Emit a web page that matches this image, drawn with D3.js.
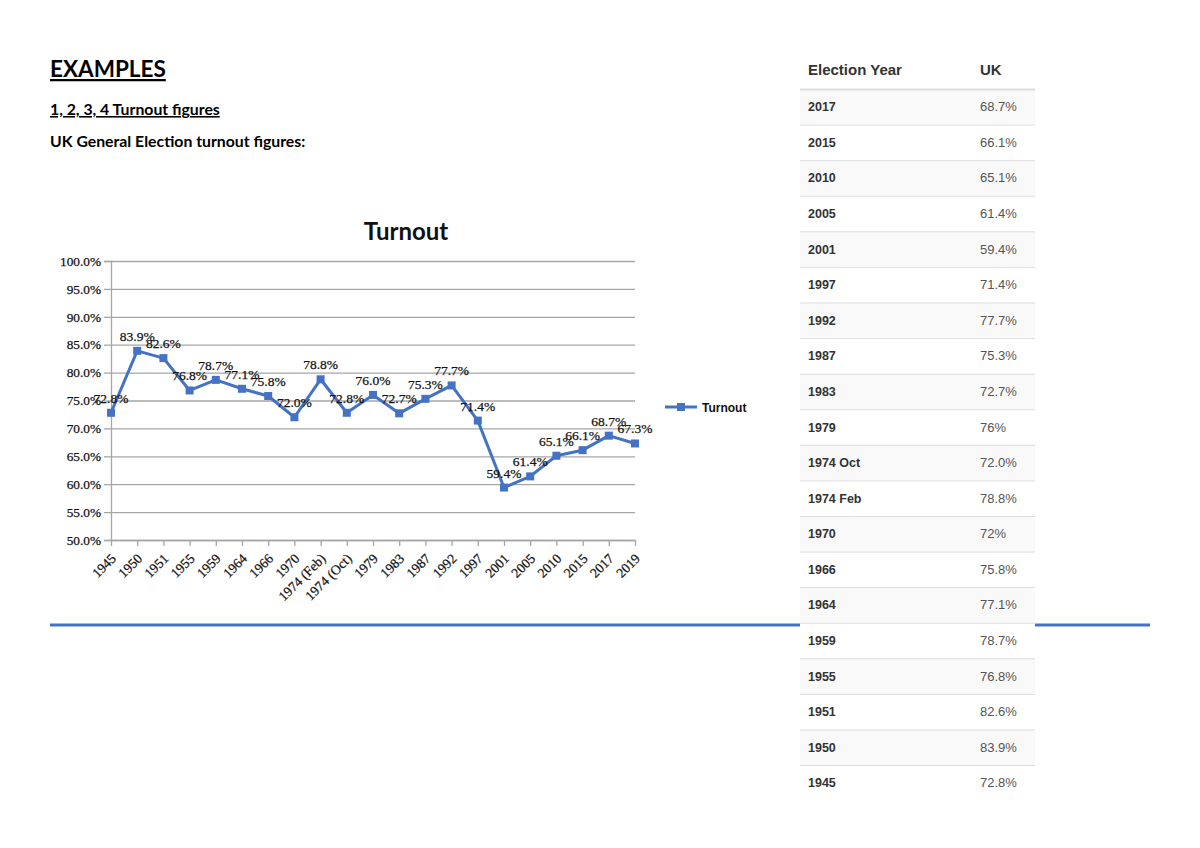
<!DOCTYPE html>
<html>
<head>
<meta charset="utf-8">
<script src="https://cdn.jsdelivr.net/npm/d3@7"></script>
<style>
  html, body { margin: 0; padding: 0; background: #fff; }
  svg { display: block; }
</style>
</head>
<body>
<svg id="page" width="1200" height="848"></svg>
<script>
// ---------- data ----------
const categories = ["1945","1950","1951","1955","1959","1964","1966","1970","1974 (Feb)","1974 (Oct)","1979","1983","1987","1992","1997","2001","2005","2010","2015","2017","2019"];
const turnout = [72.8,83.9,82.6,76.8,78.7,77.1,75.8,72.0,78.8,72.8,76.0,72.7,75.3,77.7,71.4,59.4,61.4,65.1,66.1,68.7,67.3];
const yTicks = [50,55,60,65,70,75,80,85,90,95,100];
const seriesName = "Turnout";

const tableHeader = ["Election Year","UK"];
const tableYears = ["2017","2015","2010","2005","2001","1997","1992","1987","1983","1979","1974 Oct","1974 Feb","1970","1966","1964","1959","1955","1951","1950","1945"];
const tableValues = ["68.7%","66.1%","65.1%","61.4%","59.4%","71.4%","77.7%","75.3%","72.7%","76%","72.0%","78.8%","72%","75.8%","77.1%","78.7%","76.8%","82.6%","83.9%","72.8%"];

const headings = ["EXAMPLES","1, 2, 3, 4 Turnout figures","UK General Election turnout figures:"];

// ---------- page ----------
const svg = d3.select("#page");
const blue = "#4472C4";
const headFont = "Lato, 'Open Sans', sans-serif";
const chartFont = "'Liberation Serif', serif";
const tableFont = "'Liberation Sans', Arial, sans-serif";
const ink = "#111";

// headings
svg.append("text").attr("x",50).attr("y",77)
  .attr("font-family",headFont).attr("font-weight",700).attr("font-size",22.5)
  .attr("text-decoration","underline").text(headings[0]);
svg.append("text").attr("x",50).attr("y",115)
  .attr("font-family",headFont).attr("font-weight",700).attr("font-size",15.8)
  .attr("text-decoration","underline").text(headings[1]);
svg.append("text").attr("x",50).attr("y",147)
  .attr("font-family",headFont).attr("font-weight",700).attr("font-size",15.8)
  .text(headings[2]);

// horizontal blue rule
svg.append("line").attr("x1",50).attr("x2",1150).attr("y1",625).attr("y2",625)
  .attr("stroke",blue).attr("stroke-width",3);

// ---------- chart ----------
const x = d3.scalePoint().domain(categories).range([111,635]).padding(0);
const y = d3.scaleLinear().domain([50,100]).range([540,261]);
const gridColor = "#a6a6a6";

const chart = svg.append("g");

function inkText(sel, size) {
  sel.attr("font-family",chartFont).attr("font-size",size).attr("fill",ink)
     .attr("stroke",ink).attr("stroke-width",0.25);
}

// title
chart.append("text").attr("x",406).attr("y",240).attr("text-anchor","middle")
  .attr("font-family",headFont).attr("font-weight",700).attr("font-size",24)
  .attr("fill","#111").text(seriesName);

// gridlines
const grid = chart.append("g").attr("transform","translate(111,0)")
  .call(d3.axisLeft(y).tickValues(yTicks).tickSize(-(635-111)).tickFormat(""));
grid.select(".domain").remove();
grid.selectAll("line").attr("stroke",gridColor).attr("stroke-width",1.3);

// y axis
const yAxis = chart.append("g").attr("transform","translate(111,0)")
  .call(d3.axisLeft(y).tickValues(yTicks).tickSize(7).tickPadding(3).tickFormat(d => d.toFixed(1) + "%"));
yAxis.select(".domain").attr("stroke",gridColor).attr("stroke-width",1.3);
yAxis.selectAll("line").attr("stroke",gridColor).attr("stroke-width",1.3);
inkText(yAxis.selectAll("text"), 13.3);

// x axis
const xAxis = chart.append("g").attr("transform","translate(0,540)")
  .call(d3.axisBottom(x).tickSize(6).tickSizeOuter(0));
xAxis.select(".domain").attr("stroke",gridColor).attr("stroke-width",1.3);
xAxis.selectAll("line").attr("stroke",gridColor).attr("stroke-width",1.3);
inkText(xAxis.selectAll("text"), 13.6);
xAxis.selectAll("text")
  .attr("text-anchor","end")
  .attr("x",0).attr("y",0).attr("dy","0.35em")
  .attr("transform","translate(2,16) rotate(-45)");

// line
const pts = categories.map((c,i) => ({c, v: turnout[i]}));
chart.append("path").datum(pts)
  .attr("fill","none").attr("stroke",blue).attr("stroke-width",3)
  .attr("stroke-linejoin","round")
  .attr("d", d3.line().x(d => x(d.c)).y(d => y(d.v)));

// markers
chart.append("g").selectAll("rect").data(pts).join("rect")
  .attr("x", d => x(d.c) - 4).attr("y", d => y(d.v) - 4)
  .attr("width",8).attr("height",8).attr("fill",blue);

// data labels
const labels = chart.append("g").selectAll("text").data(pts).join("text")
  .attr("x", d => x(d.c)).attr("y", d => y(d.v) - 10)
  .attr("text-anchor","middle")
  .text(d => d.v.toFixed(1) + "%");
inkText(labels, 13.5);

// legend
const lg = chart.append("g").attr("transform","translate(665,407)");
lg.append("line").attr("x1",0).attr("x2",32).attr("y1",0).attr("y2",0)
  .attr("stroke",blue).attr("stroke-width",3);
lg.append("rect").attr("x",12).attr("y",-4).attr("width",8).attr("height",8).attr("fill",blue);
lg.append("text").attr("x",37).attr("y",4.5)
  .attr("font-family",tableFont).attr("font-weight",700).attr("font-size",12)
  .attr("fill","#111").text(seriesName);

// ---------- table ----------
const tLeft = 800, tRight = 1035, tTop = 50, headBottom = 89, rowH = 35.58;
const tbl = svg.append("g");
tbl.append("rect").attr("x",tLeft).attr("y",tTop).attr("width",tRight-tLeft).attr("height",headBottom-tTop).attr("fill","#fff");
const colX = [808, 980];
tbl.selectAll("text.h").data(tableHeader).join("text").attr("class","h")
  .attr("x",(d,i) => colX[i]).attr("y",75)
  .attr("font-family",tableFont).attr("font-weight",700).attr("font-size",15)
  .attr("fill","#333").text(d => d);

const rows = tbl.selectAll("g.row").data(tableYears).join("g").attr("class","row")
  .attr("transform",(d,i) => `translate(0,${headBottom + i*rowH})`);
rows.append("rect").attr("x",tLeft).attr("y",0).attr("width",tRight-tLeft).attr("height",rowH)
  .attr("fill",(d,i) => i % 2 === 0 ? "#f9f9f9" : "#ffffff");
rows.append("line").attr("x1",tLeft).attr("x2",tRight).attr("y1",0.5).attr("y2",0.5)
  .attr("stroke","#dddddd").attr("stroke-width",(d,i) => i === 0 ? 2 : 1);
rows.append("text").attr("x",colX[0]).attr("y",rowH/2 + 4.5)
  .attr("font-family",tableFont).attr("font-weight",700).attr("font-size",12.5)
  .attr("fill","#333").text(d => d);
rows.append("text").attr("x",colX[1]).attr("y",rowH/2 + 4.5)
  .attr("font-family",tableFont).attr("font-size",13)
  .attr("fill","#555").text((d,i) => tableValues[i]);
</script>
</body>
</html>
